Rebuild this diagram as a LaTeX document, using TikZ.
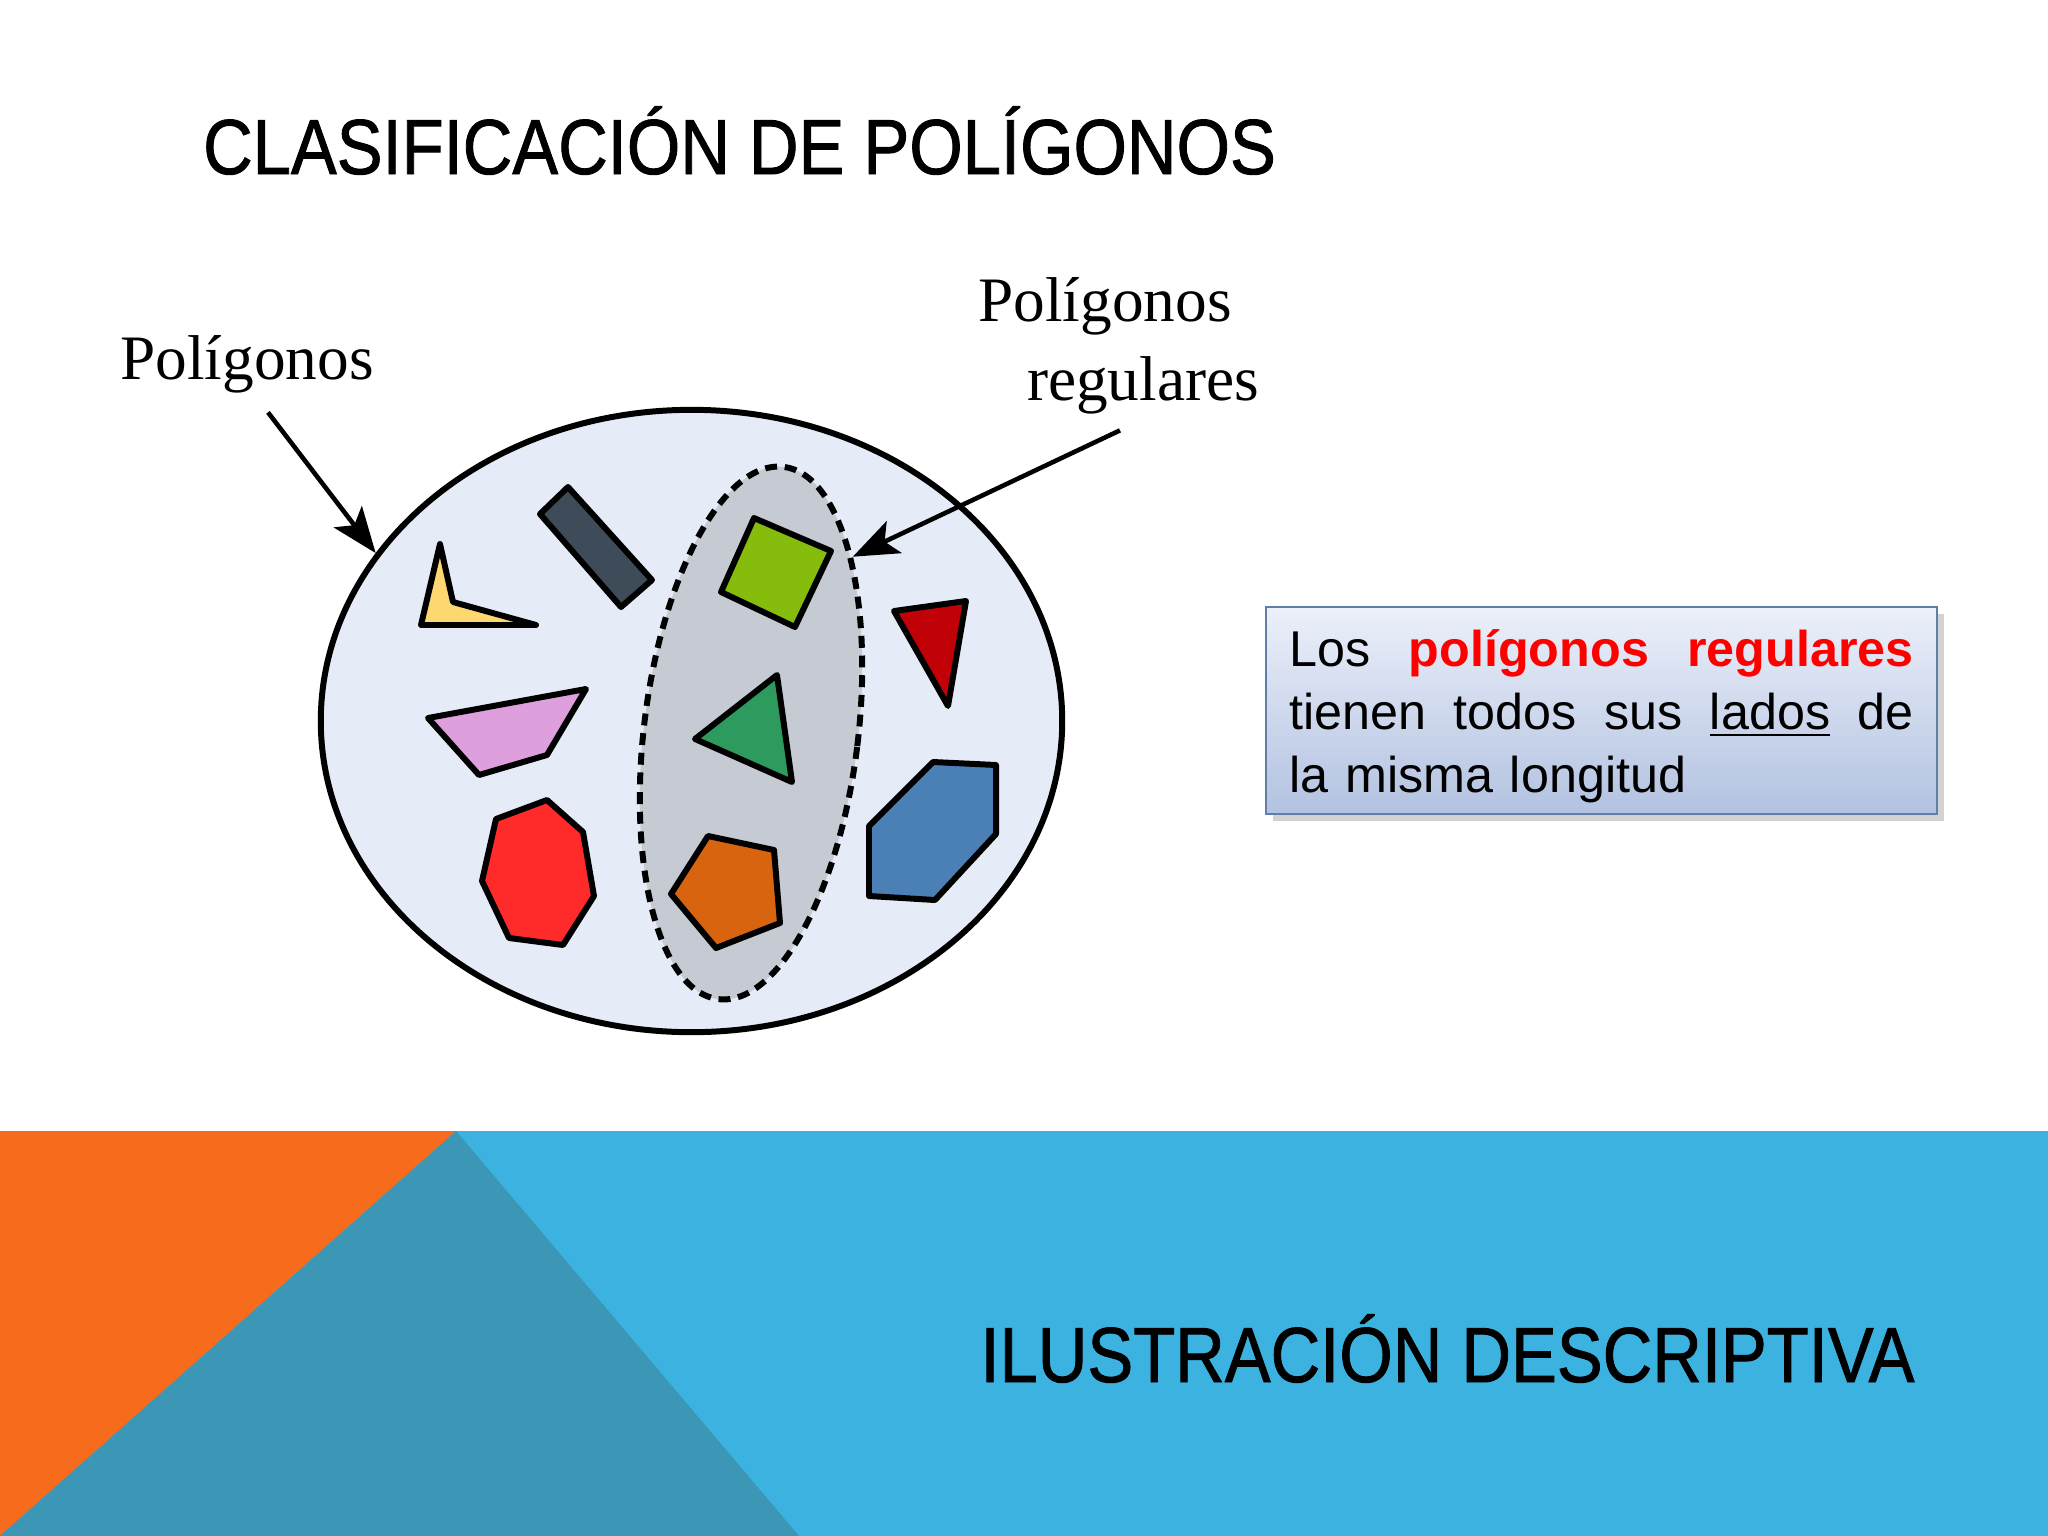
\documentclass[tikz,border=0pt]{standalone}
\usepackage{fontspec}
\newfontfamily\arialfont{Liberation Sans}
\newfontfamily\titlefont{Liberation Sans}[FakeBold=1.2]
\newfontfamily\labelfont{Liberation Serif}
\usepackage{xcolor}
\usepackage{tikz}
\usetikzlibrary{positioning,arrows.meta,shapes.geometric,shadows}

\definecolor{bandblue}{RGB}{59,178,223}
\definecolor{bandteal}{RGB}{60,150,182}
\definecolor{bandorange}{RGB}{247,107,28}
\definecolor{setfill}{RGB}{230,236,247}
\definecolor{regfill}{RGB}{197,202,211}
\definecolor{boxtop}{RGB}{236,240,250}
\definecolor{boxbot}{RGB}{178,194,224}
\definecolor{boxedge}{RGB}{96,126,170}
\definecolor{cyellow}{RGB}{253,216,112}
\definecolor{cslate}{RGB}{61,76,88}
\definecolor{clime}{RGB}{134,188,12}
\definecolor{cdarkred}{RGB}{192,2,8}
\definecolor{cplum}{RGB}{221,160,221}
\definecolor{cgreen}{RGB}{46,155,94}
\definecolor{cred}{RGB}{255,42,42}
\definecolor{corange}{RGB}{216,100,15}
\definecolor{cblue}{RGB}{74,128,182}

\begin{document}
\begin{tikzpicture}[x=0.01cm, y=-0.01cm,
	slide/.style={font=\titlefont\fontsize{22.2}{26}\selectfont, anchor=base, inner sep=0pt},
	lbl/.style={font=\labelfont\fontsize{18}{21}\selectfont, anchor=base, inner sep=0pt},
	poly/.style={draw=black, line width=1.7pt, line join=round},
	arr/.style={-{Stealth[length=13pt, width=10pt, inset=3pt]}, line width=1.3pt},
	infobox/.style={draw=boxedge, line width=0.6pt, top color=boxtop, bottom color=boxbot, text width=6.24cm, minimum height=2.07cm, inner xsep=0.235cm, inner ysep=0pt, align=left, font=\arialfont\fontsize{14.3}{17.9}\selectfont, drop shadow={shadow xshift=2pt, shadow yshift=-2pt, opacity=0.35}}]
	\useasboundingbox (0,0) rectangle (2048,1536);
	\fill[white] (0,0) rectangle (2048,1536);
	% bottom band
	\fill[bandblue] (0,1131) rectangle (2048,1536);
	\fill[bandorange] (0,1131) -- (456,1131) -- (0,1536) -- cycle;
	\fill[bandteal] (456,1131) -- (799,1536) -- (0,1536) -- cycle;
	\node[slide] (title) at (739.5,174) {\scalebox{0.88}[1]{CLASIFICACIÓN DE POLÍGONOS}};
	\node[slide] (subtitle) at (1447.5,1382) {\scalebox{0.88}[1]{ILUSTRACIÓN DESCRIPTIVA}};
	% sets
	\node[ellipse, draw, line width=1.7pt, fill=setfill, minimum width=7.41cm, minimum height=6.22cm, inner sep=0pt] (poligonos) at (691.5,721) {};
	\node[ellipse, draw, line width=1.7pt, fill=regfill, dash pattern=on 3.4pt off 2.2pt, minimum width=2.14cm, minimum height=5.36cm, inner sep=0pt, rotate=-7] (regulares) at (751,733) {};
	% polygons
	\filldraw[poly, fill=cyellow] (440,544) -- (453,602) -- (536,625) -- (421,625) -- cycle;
	\filldraw[poly, fill=cslate] (540,514) -- (568,487) -- (652,580) -- (621,607) -- cycle;
	\filldraw[poly, fill=clime] (754,518) -- (831,551) -- (795,627) -- (721,592) -- cycle;
	\filldraw[poly, fill=cdarkred] (894,611) -- (966,601) -- (948,706) -- cycle;
	\filldraw[poly, fill=cplum] (428,718) -- (586,689) -- (547,755) -- (479,775) -- cycle;
	\filldraw[poly, fill=cgreen] (777,675) -- (792,782) -- (695,739) -- cycle;
	\filldraw[poly, fill=cred] (547,800) -- (583,832) -- (594,896) -- (563,945) -- (509,938) -- (482,881) -- (496,819) -- cycle;
	\filldraw[poly, fill=corange] (708,836) -- (774,850) -- (780,923) -- (716,948) -- (671,894) -- cycle;
	\filldraw[poly, fill=cblue] (933,762) -- (996,765) -- (996,834) -- (935,900) -- (869,896) -- (869,826) -- cycle;
	% labels
	\node[lbl] (lblpol) at (247,379) {Polígonos};
	\node[lbl] (lblreg1) at (1105,321) {Polígonos};
	\node[lbl] (lblreg2) at (1143,400) {regulares};
	\draw[arr] ([shift={(21,19)}]lblpol.south) -- (poligonos.152);
	\draw[arr] ([shift={(-23,16)}]lblreg2.south) -- (regulares.67);
	% definition box
	\node[infobox] (info) at (1601.5,710.5) {%
		\vspace*{-0.14cm}
		\hbox to 6.24cm{Los\hfill\textcolor{red}{\textbf{polígonos}}\hfill\textcolor{red}{\textbf{regulares}}}
		\hbox to 6.24cm{tienen\hfill todos\hfill sus\hfill\underline{lados}\hfill de}
		\hbox{la misma longitud}};
\end{tikzpicture}
\end{document}
